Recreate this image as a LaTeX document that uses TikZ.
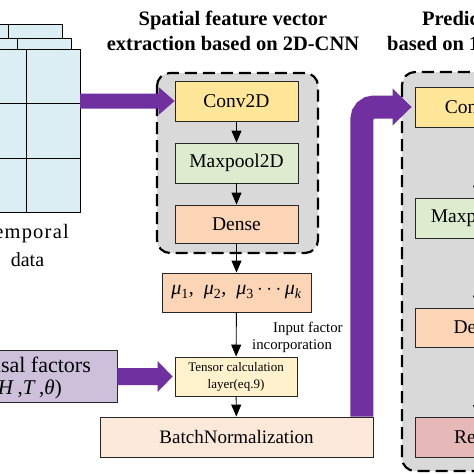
\documentclass[tikz,border=0pt]{standalone}
\usepackage{fontspec}
\setmainfont{Liberation Serif}
\usetikzlibrary{arrows.meta,calc}
\definecolor{gridblue}{HTML}{DAEEF3}
\definecolor{convyel}{HTML}{FFE699}
\definecolor{poolgreen}{HTML}{DDEBCF}
\definecolor{densepeach}{HTML}{FBD5B5}
\definecolor{tensoryel}{HTML}{FFF2CC}
\definecolor{bnpeach}{HTML}{FDE9D9}
\definecolor{repink}{HTML}{E6B9B8}
\definecolor{lavender}{HTML}{CCC0DA}
\definecolor{arrowpurple}{HTML}{7030A0}
\definecolor{boxgray}{HTML}{D9D9D9}
\tikzset{
  blk/.style={draw=black!85, line width=0.9pt, minimum width=123pt, minimum height=40pt,
    inner sep=0pt, font=\fontsize{19.5}{22}\selectfont},
  flow/.style={draw=black, line width=0.9pt, -{Triangle[length=12pt,width=10pt]}},
  dbox/.style={fill=boxgray, draw=black, line width=2.2pt, dash pattern=on 12pt off 6pt, rounded corners=13pt},
  ttl/.style={font=\bfseries\fontsize{20.5}{25}\selectfont, inner sep=0pt},
  lbl/.style={inner sep=0pt},
  gridcell/.style={fill=gridblue, draw=black, line width=1pt},
}
\newcommand\hfatarrow[5]{%
  \fill[arrowpurple] ($(#1)+(0,-#3)$) -- ($(#2)+(-#5,-#3)$) -- ($(#2)+(-#5,-#4)$) -- (#2)
    -- ($(#2)+(-#5,#4)$) -- ($(#2)+(-#5,#3)$) -- ($(#1)+(0,#3)$) -- cycle;}
\begin{document}
\begin{tikzpicture}[x=1pt,y=-1pt]
\useasboundingbox (0,0) rectangle (474,474);
\clip (0,0) rectangle (474,474);
\fill[white] (0,0) rectangle (474,474);

% stacked grid (data cube)
\foreach \dx/\dy in {-18/-25,-9/-11,0/0}{
  \begin{scope}[shift={(\dx,\dy)}]
    \draw[gridcell] (-28,49) rectangle (80,212);
    \draw[line width=1pt] (26,49) -- (26,212) (-28,103) -- (80,103) (-28,158) -- (80,158);
  \end{scope}
}
\coordinate (gridout) at (80,101);
\node[lbl, anchor=base east, font=\fontsize{20.5}{24}\selectfont\addfontfeatures{LetterSpace=6}] (td1) at (69,238) {Temporal};
\node[lbl, anchor=base, font=\fontsize{20}{24}\selectfont] (td2) at (27.5,266) {data};

% titles
\node[ttl, anchor=base] (t1) at (233,25) {Spatial feature vector};
\node[ttl, anchor=base] (t2) at (233,50) {extraction based on 2D-CNN};
\node[ttl, anchor=base west] (t3) at (422,25) {Prediction};
\node[ttl, anchor=base west] (t4) at (387,50) {based on 1D-CNN};

% dashed group boxes
\draw[dbox] (157,73) rectangle (318,253);
\draw[dbox] (402,72) rectangle (556,471);

% left column
\node[blk, fill=convyel] (c2d) at (236.5,101) {Conv2D};
\node[blk, fill=poolgreen] (mp2d) at (236.5,163) {Maxpool2D};
\node[blk, fill=densepeach, minimum height=38pt] (de2d) at (236.5,224) {Dense};
\node[blk, fill=densepeach, minimum width=149pt, minimum height=39pt, font=\fontsize{20}{22}\selectfont] (mu) at (236.5,292.5)
  {\textit{μ}\textsubscript{1},\ \ \textit{μ}\textsubscript{2},\ \ \textit{μ}\textsubscript{3}\,$\cdots$\,\textit{μ}\textsubscript{\textit{k}}};
\node[blk, fill=tensoryel, minimum width=122pt, minimum height=39pt, align=center,
  font=\fontsize{13}{17}\selectfont] (tensor) at (236,376.5) {Tensor calculation\\layer(eq.9)};

% big purple arrow (drawn before BN box)
\node[blk, draw=none, minimum width=273pt] (bnpos) at (236.5,437) {};
\node[blk, fill=repink, minimum width=126pt] (re1d) at (478,437.5) {ReLU};
\node[blk, fill=convyel, minimum width=126pt] (c1d) at (478,107) {Conv1D};
\coordinate (bigstart) at ($(bnpos.north east)+(-11.5,0)$);
\coordinate (bigtip) at ($(c1d.west)+(-3,0)$);
\coordinate (bighead) at ($(bigtip)+(-19,0)$);
\draw[arrowpurple, line width=23pt, rounded corners=12pt] (bigstart) |- ($(bighead)+(1,0)$);
\fill[arrowpurple] ($(bighead)+(0,-18.5)$) -- (bigtip) -- ($(bighead)+(0,18.5)$) -- cycle;

\node[blk, fill=bnpeach, minimum width=273pt, font=\fontsize{19}{22}\selectfont] (bn) at (236.5,437) {BatchNormalization};

% causal factors box
\node[blk, fill=lavender, minimum width=177pt, minimum height=52pt] (fac) at (28.5,376.5) {};
\node[lbl, anchor=base east, font=\fontsize{22}{24}\selectfont] (fac1) at (91,372) {Causal factors};
\node[lbl, anchor=base east, font=\fontsize{21}{24}\selectfont] (fac2) at (62,394) {(\textit{H}\,,\textit{T}\,,\textit{θ})};

% right column
\node[blk, fill=poolgreen, minimum width=126pt] (mp1d) at (478,218) {Maxpool1D};
\node[blk, fill=densepeach, minimum width=126pt, minimum height=39pt] (de1d) at (478,327.5) {Dense};

% thin arrows
\draw[flow] (c2d) -- (mp2d);
\draw[flow] (mp2d) -- (de2d);
\draw[flow] (de2d) -- (mu);
\draw[flow] (mu) -- (tensor);
\draw[flow] (tensor) -- (bn);
\draw[flow] (c1d) -- (mp1d);
\draw[flow] (mp1d) -- (de1d);
\draw[flow] (de1d) -- (re1d);

\node[lbl, anchor=base west, font=\fontsize{14.8}{18}\selectfont] (inp1) at (273,332) {Input factor};
\node[lbl, anchor=base west, font=\fontsize{14.8}{18}\selectfont] (inp2) at (252,349) {incorporation};

% fat purple arrows
\coordinate (tenin) at ($(tensor.west)+(-2,0)$);
\hfatarrow{gridout}{c2d.west}{7.5}{14}{16}
\hfatarrow{fac.east}{tenin}{8.5}{15.5}{15}
\end{tikzpicture}
\end{document}
